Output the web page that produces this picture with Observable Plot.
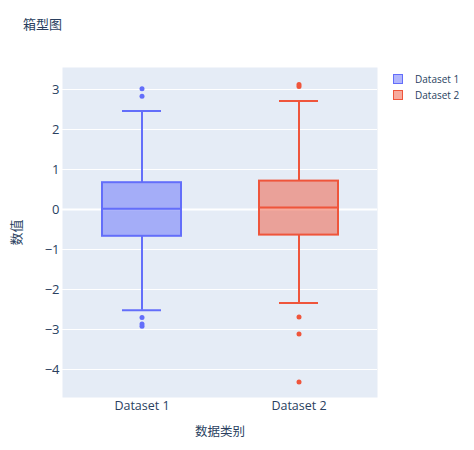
<!DOCTYPE html>
<html>
<head>
<meta charset="utf-8">
<script src="https://cdn.jsdelivr.net/npm/d3@7"></script>
<script src="https://cdn.jsdelivr.net/npm/@observablehq/plot@0.6"></script>
<style>
  body { margin: 0; background: #fff; font-family: "Open Sans", "Noto Sans CJK SC", sans-serif; }
  #wrap { position: relative; width: 474px; height: 450px; }
  #title { position: absolute; left: 23px; top: 14px; font-size: 13px; color: #2a3f5f; }
  #legend { position: absolute; left: 393px; top: 71px; font-size: 10px; color: #2a3f5f; }
  #legend .row { display: flex; align-items: center; height: 16px; }
  #legend .sw { width: 8px; height: 8px; border: 1px solid; margin-right: 12px; }
  svg { position: absolute; left: 0; top: 0; }
</style>
</head>
<body>
<div id="wrap">
  <div id="title"></div>
  <div id="legend"></div>
</div>
<script>
const chartTitle = "箱型图";
const xLabel = "数据类别";
const yLabel = "数值";
const categories = ["Dataset 1", "Dataset 2"];
const colors = ["#636efa", "#EF553B"];
const q1 = [-0.67, -0.64];
const median = [0.02, 0.05];
const q3 = [0.67, 0.71];
const whiskerLow = [-2.52, -2.34];
const whiskerHigh = [2.46, 2.71];
const outliers1 = [3.02, 2.83, -2.70, -2.86, -2.92];
const outliers2 = [3.125, 3.075, -2.69, -3.11, -4.31];
const yTicks = [-4, -3, -2, -1, 0, 1, 2, 3];

const boxes = categories.map((c, i) => ({
  cat: c, q1: q1[i], median: median[i], q3: q3[i], lo: whiskerLow[i], hi: whiskerHigh[i]
}));
const outlierData = [
  ...outliers1.map(v => ({cat: categories[0], v})),
  ...outliers2.map(v => ({cat: categories[1], v}))
];

document.getElementById("title").textContent = chartTitle;
const legend = document.getElementById("legend");
categories.forEach((c, i) => {
  const row = document.createElement("div");
  row.className = "row";
  const sw = document.createElement("div");
  sw.className = "sw";
  sw.style.borderColor = colors[i];
  sw.style.background = d3.color(colors[i]).copy({opacity: 0.5}).toString();
  const t = document.createElement("span");
  t.textContent = c;
  row.appendChild(sw); row.appendChild(t);
  legend.appendChild(row);
});

const chart = Plot.plot({
  width: 474,
  height: 450,
  marginTop: 67,
  marginBottom: 53,
  marginLeft: 62,
  marginRight: 97,
  style: {fontFamily: '"Open Sans", "Noto Sans CJK SC", sans-serif', color: "#2a3f5f", background: "transparent"},
  x: {domain: categories, paddingInner: 0.5, paddingOuter: 0.25, label: null},
  y: {domain: [-4.7, 3.55], label: null},
  color: {domain: categories, range: colors},
  marks: [
    Plot.frame({fill: "#E5ECF6", stroke: null}),
    Plot.gridY(yTicks, {stroke: "#fff", strokeOpacity: 1, strokeWidth: 1}),
    Plot.ruleY([0], {stroke: "#fff", strokeWidth: 2}),
    Plot.axisY(yTicks, {tickSize: 0, tickPadding: 3, fontSize: 13, tickFormat: d3.format("d"),
      label: yLabel, labelAnchor: "center", labelOffset: 51, labelArrow: "none"}),
    Plot.axisX({tickSize: 0, tickPadding: 4, fontSize: 12.5, label: xLabel, labelAnchor: "center",
      labelOffset: 38, labelArrow: "none"}),
    Plot.ruleX(boxes, {x: "cat", y1: "q3", y2: "hi", stroke: "cat", strokeWidth: 2}),
    Plot.ruleX(boxes, {x: "cat", y1: "lo", y2: "q1", stroke: "cat", strokeWidth: 2}),
    Plot.tickY(boxes, {x: "cat", y: "hi", stroke: "cat", strokeWidth: 2, insetLeft: 20, insetRight: 20}),
    Plot.tickY(boxes, {x: "cat", y: "lo", stroke: "cat", strokeWidth: 2, insetLeft: 20, insetRight: 20}),
    Plot.barY(boxes, {x: "cat", y1: "q1", y2: "q3", fill: "cat", fillOpacity: 0.5, stroke: "cat", strokeWidth: 2}),
    Plot.tickY(boxes, {x: "cat", y: "median", stroke: "cat", strokeWidth: 2}),
    Plot.dot(outlierData, {x: "cat", y: "v", fill: "cat", r: 2.5, stroke: null})
  ]
});
document.getElementById("wrap").appendChild(chart);
</script>
</body>
</html>
